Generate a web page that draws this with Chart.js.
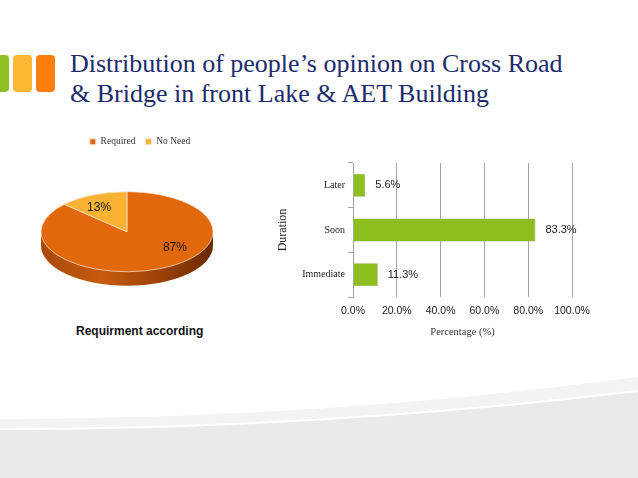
<!DOCTYPE html>
<html>
<head>
<meta charset="utf-8">
<script src="https://cdn.jsdelivr.net/npm/chart.js@4.4.0/dist/chart.umd.min.js"></script>
<style>
  html, body { margin: 0; padding: 0; }
  body { width: 638px; height: 478px; position: relative; overflow: hidden; background: #fff; }
  #bg { position: absolute; left: 0; top: 0; }
  .tab { position: absolute; top: 55px; height: 37px; border-radius: 4px; }
  #title {
    position: absolute; left: 70px; top: 49px;
    font-family: "Liberation Serif", serif; font-size: 26px; line-height: 30px;
    color: #1c2b6b; white-space: nowrap;
  }
  #pieCanvas { position: absolute; left: 10px; top: 127px; }
  #barCanvas { position: absolute; left: 270px; top: 150px; }
  #pieCaption {
    position: absolute; left: 76px; top: 324px;
    font-family: "Liberation Sans", Arial, sans-serif; font-size: 12px; font-weight: bold; color: #111;
  }
</style>
</head>
<body>
<svg id="bg" width="638" height="478">
  <path d="M0,419 Q319,419 638,377 L638,478 L0,478 Z" fill="#f3f3f3"/>
  <path d="M0,429 Q319,429 638,391 L638,478 L0,478 Z" fill="#eaeaea"/>
  <path d="M0,429 Q319,429 638,391" fill="none" stroke="#ffffff" stroke-width="2"/>
</svg>
<div class="tab" style="left:-10px;width:19px;background:#8cc023"></div>
<div class="tab" style="left:13px;width:19px;background:#fdb732"></div>
<div class="tab" style="left:36px;width:19px;background:#ff7e0e"></div>
<div id="title">Distribution of people’s opinion on Cross Road<br>&amp; Bridge in front Lake &amp; AET Building</div>

<canvas id="pieCanvas" width="260" height="180"></canvas>
<div id="pieCaption">Requirment according</div>
<canvas id="barCanvas" width="340" height="200"></canvas>

<script>
// pie data
const opinionLabels = ["Required", "No Need"];
const opinionValues = [87, 13];
const opinionColors = ["#e2680c", "#f9b233"];

// bar data
const durationLabels = ["Later", "Soon", "Immediate"];
const durationValues = [5.6, 83.3, 11.3];
const percentTicks = [0, 20, 40, 60, 80, 100];

const serif = "Liberation Serif";
const sans = "Liberation Sans";

// look of the 3d pie
const tilt = 0.465;
const depth = 14;
const pieShiftX = -13;
const labelNudge = [[24, -10], [-4, 2]];

const pie3d = {
  id: "pie3d",
  beforeDatasetsDraw(chart) {
    const meta = chart.getDatasetMeta(0);
    const first = meta.data[0];
    const x = first.x, y = first.y, r = first.outerRadius;
    const ctx = chart.ctx;
    ctx.save();
    ctx.translate(x + pieShiftX, y);
    ctx.scale(1, tilt);
    ctx.translate(-x, -y);
    // side of the disc
    const d = depth / tilt;
    const g = ctx.createLinearGradient(x - r, 0, x + r, 0);
    g.addColorStop(0, "#a9490a");
    g.addColorStop(0.35, "#c65c0c");
    g.addColorStop(0.7, "#9a4107");
    g.addColorStop(1, "#6a2a03");
    ctx.fillStyle = g;
    ctx.fillRect(x - r, y, 2 * r, d);
    ctx.beginPath();
    ctx.arc(x, y + d, r, 0, Math.PI * 2);
    ctx.fill();
  },
  afterDatasetsDraw(chart) {
    const ctx = chart.ctx;
    ctx.restore();
    const meta = chart.getDatasetMeta(0);
    ctx.save();
    ctx.font = "12px " + sans;
    ctx.fillStyle = "#1a1a1a";
    ctx.textAlign = "center";
    ctx.textBaseline = "middle";
    meta.data.forEach((arc, i) => {
      const mid = (arc.startAngle + arc.endAngle) / 2;
      const k = 0.7;
      const px = arc.x + pieShiftX + Math.cos(mid) * arc.outerRadius * k + labelNudge[i][0];
      const py = arc.y + Math.sin(mid) * arc.outerRadius * k * tilt + labelNudge[i][1];
      ctx.fillText(opinionValues[i] + "%", px, py);
    });
    ctx.restore();
  }
};

new Chart(document.getElementById("pieCanvas"), {
  type: "pie",
  data: {
    labels: opinionLabels,
    datasets: [{
      data: opinionValues,
      backgroundColor: opinionColors,
      borderColor: "#f4e2cf",
      borderWidth: 1,
      radius: 86
    }]
  },
  options: {
    responsive: false,
    animation: false,
    plugins: {
      legend: {
        position: "top",
        labels: {
          boxWidth: 6, boxHeight: 6, padding: 10,
          color: "#333", font: { family: serif, size: 9.5 }
        }
      },
      tooltip: { enabled: false }
    }
  },
  plugins: [pie3d]
});

// value labels after each bar
const barLabels = {
  id: "barLabels",
  afterDatasetsDraw(chart) {
    const ctx = chart.ctx;
    const meta = chart.getDatasetMeta(0);
    ctx.save();
    ctx.font = "11px " + sans;
    ctx.fillStyle = "#1a1a1a";
    ctx.textAlign = "left";
    ctx.textBaseline = "middle";
    meta.data.forEach((bar, i) => {
      ctx.fillText(durationValues[i].toFixed(1) + "%", bar.x + 10, bar.y);
    });
    ctx.restore();
  }
};

new Chart(document.getElementById("barCanvas"), {
  type: "bar",
  data: {
    labels: durationLabels,
    datasets: [{
      data: durationValues,
      backgroundColor: "#8dbd1e",
      borderColor: "#7f9a4a",
      borderWidth: 0.6,
      barPercentage: 0.6,
      categoryPercentage: 0.86
    }]
  },
  options: {
    indexAxis: "y",
    responsive: false,
    animation: false,
    layout: { padding: { top: 13, right: 38, bottom: 7, left: 2 } },
    plugins: { legend: { display: false }, tooltip: { enabled: false } },
    scales: {
      x: {
        min: 0, max: 100,
        afterBuildTicks: s => { s.ticks = percentTicks.map(v => ({ value: v })); },
        afterFit: s => { s.height = 46; },
        ticks: {
          callback: v => v.toFixed(1) + "%",
          color: "#1a1a1a", padding: 8, maxRotation: 0,
          font: { family: sans, size: 10.5 }
        },
        grid: { color: "#a3a3a3", tickLength: 0 },
        border: { display: false },
        title: {
          display: true, text: "Percentage (%)", color: "#333",
          font: { family: serif, size: 10.5 }
        }
      },
      y: {
        afterFit: s => { s.width = 81; },
        ticks: { color: "#222", padding: 3, font: { family: serif, size: 10 } },
        grid: { drawOnChartArea: false, color: "#a3a3a3", tickLength: 5 },
        border: { color: "#a3a3a3" },
        title: {
          display: true, text: "Duration", color: "#222",
          font: { family: serif, size: 12 }
        }
      }
    }
  },
  plugins: [barLabels]
});
</script>
</body>
</html>
